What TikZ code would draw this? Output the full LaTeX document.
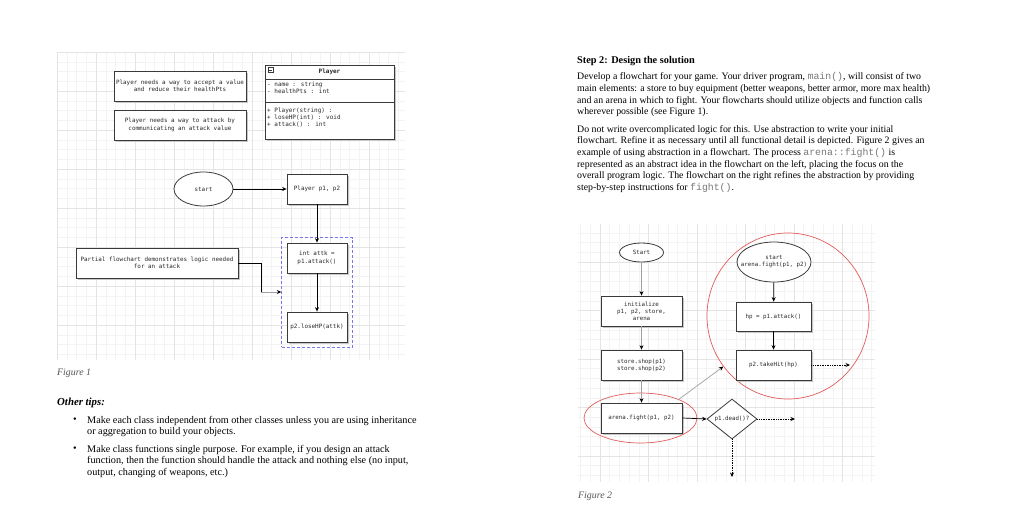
\documentclass[tikz,border=0pt]{standalone}
\usepackage{fontspec}
\setmainfont{Liberation Serif}
\setmonofont{Liberation Mono}
\newfontfamily\diafont{DejaVu Sans Mono}
\usepackage{xcolor}
\usetikzlibrary{arrows.meta, shapes.geometric, positioning, calc, fit, shadows}
\definecolor{GridMinor}{RGB}{243,243,243}
\definecolor{GridMajor}{RGB}{228,228,228}
\definecolor{BoxLine}{RGB}{58,58,58}
\definecolor{DiaText}{RGB}{40,40,40}
\definecolor{FocusRed}{RGB}{226,92,92}
\definecolor{SelectBlue}{RGB}{120,120,235}
\definecolor{CodeGray}{RGB}{120,120,120}
\definecolor{CaptionGray}{RGB}{85,85,85}
\definecolor{LinkGray}{RGB}{160,160,160}
\newcommand{\bodysize}{\fontsize{9.85}{11.6}\selectfont}
\newcommand{\tipsize}{\fontsize{10.2}{11.5}\selectfont}
\newcommand{\inlinecode}[1]{\textcolor{CodeGray}{\texttt{#1}}}

\begin{document}
\begin{tikzpicture}[x=1pt,y=-1pt,
    dia/.style={draw=BoxLine,fill=white,line width=0.8pt,text=DiaText,
                font=\diafont\fontsize{5.9}{7.3}\selectfont,align=center,inner sep=0pt},
    box/.style={dia,drop shadow={shadow xshift=1.6pt,shadow yshift=-1.6pt,fill=black!22,opacity=1}},
    flowtext/.style={font=\diafont\fontsize{5.8}{7}\selectfont},
    term/.style={dia,ellipse},
    cls/.style={text=DiaText,font=\diafont\fontsize{6}{7.2}\selectfont,align=left,inner sep=0pt,anchor=north west},
    arr/.style={-{Stealth[length=4.5pt,width=4pt]},draw=black,line width=0.7pt},
    garr/.style={-{Stealth[length=4.5pt,width=4pt,color=black]},draw=LinkGray,line width=1pt},
    darr/.style={arr,densely dotted},
    focus/.style={draw=FocusRed,line width=0.7pt,ellipse,inner sep=0pt},
    para/.style={inner sep=0pt,anchor=north west,align=left,font=\bodysize},
    tip/.style={para,font=\tipsize},
    gridfine/.style={GridMinor,line width=0.5pt},
    gridbold/.style={GridMajor,line width=0.6pt}
  ]
  \fill[white] (0,0) rectangle (1024,504);
  \useasboundingbox (0,0) rectangle (1024,504);

  % grid behind figure 1
  \begin{scope}
    \clip (57,52) rectangle (405,360);
    \foreach \i in {0,...,36} \draw[gridfine] ({57+9.75*\i},52) -- ({57+9.75*\i},360);
    \foreach \j in {0,...,32} \draw[gridfine] (57,{52+9.75*\j}) -- (405,{52+9.75*\j});
    \foreach \i in {0,...,9} \draw[gridbold] ({57+39*\i},52) -- ({57+39*\i},360);
    \foreach \j in {0,...,8} \draw[gridbold] (57,{52+39*\j}) -- (405,{52+39*\j});
  \end{scope}

  % grid behind figure 2
  \begin{scope}
    \clip (578,224) rectangle (875,482);
    \foreach \i in {0,...,34} \draw[gridfine] ({551.5+9.7*\i},224) -- ({551.5+9.7*\i},482);
    \foreach \j in {0,...,28} \draw[gridfine] (578,{213.5+9.7*\j}) -- (875,{213.5+9.7*\j});
    \foreach \i in {0,...,7} \draw[gridbold] ({551.5+48.5*\i},224) -- ({551.5+48.5*\i},482);
    \foreach \j in {0,...,6} \draw[gridbold] (578,{213.5+48.5*\j}) -- (875,{213.5+48.5*\j});
  \end{scope}

  % figure 1: notes and class
  \node[box,minimum width=132,minimum height=30] (needValue) at (180,86)
    {Player needs a way to accept a value\\and reduce their healthPts};
  \node[box,minimum width=132,minimum height=30] (needAttack) at (180,125)
    {Player needs a way to attack by\\communicating an attack value};

  \node[box,minimum width=129,minimum height=74,anchor=north west] (playerCls) at (265,65) {};
  \draw[BoxLine,line width=0.8pt] ($(playerCls.north west)+(0,14)$) -- ($(playerCls.north east)+(0,14)$);
  \draw[BoxLine,line width=0.8pt] ($(playerCls.north west)+(0,37)$) -- ($(playerCls.north east)+(0,37)$);
  \node[cls,anchor=center,font=\diafont\bfseries\fontsize{6}{7.2}\selectfont] (clsName) at (329.5,72) {Player};
  \node[draw=BoxLine,line width=0.5pt,minimum size=5,inner sep=0pt] (clsToggle) at (270.5,70) {};
  \draw[BoxLine,line width=0.5pt] ($(clsToggle.west)+(1,0)$) -- ($(clsToggle.east)+(-1,0)$);
  \node[cls] (clsAttr) at (267,81.5) {- name : string\\- healthPts : int};
  \node[cls] (clsOps) at (267,107.5) {+ Player(string) :\\+ loseHP(int) : void\\+ attack() : int};

  % figure 1: partial flowchart
  \node[term,minimum width=59,minimum height=34] (startA) at (203.5,189) {start};
  \node[box,minimum width=60,minimum height=30] (declA) at (317,189) {Player p1, p2};
  \node[box,minimum width=60,minimum height=30] (attkA) at (317,258) {int attk =\\p1.attack()};
  \node[box,minimum width=60,minimum height=30] (loseA) at (317,327) {p2.loseHP(attk)};
  \node[draw=SelectBlue,densely dashed,line width=0.6pt,fit=(attkA)(loseA),inner sep=5pt] (attackGroup) {};
  \node[box,minimum width=162,minimum height=30] (partialA) at (157,263)
    {Partial flowchart demonstrates logic needed\\for an attack};
  \coordinate (kneeA) at (261,292);

  \draw[arr] (startA) -- (declA);
  \draw[arr] (declA) -- (attkA);
  \draw[arr] (attkA) -- (loseA);
  \draw[black,line width=0.7pt] (partialA.east) -| (kneeA);
  \draw[garr] (kneeA) -- (kneeA -| attackGroup.west);

  % figure 2: main flowchart
  \node[term,flowtext,minimum width=44,minimum height=19] (startB) at (641.5,252.5) {Start};
  \node[box,flowtext,minimum width=81,minimum height=30] (initB) at (641.5,311) {initialize\\p1, p2, store,\\arena};
  \node[box,flowtext,minimum width=81,minimum height=30] (shopB) at (641.5,365) {store.shop(p1)\\store.shop(p2)};
  \node[box,flowtext,minimum width=81,minimum height=30] (fightB) at (641.5,418) {arena.fight(p1, p2)};
  \node[focus,minimum width=113,minimum height=50] (focusB) at (640.5,418) {};
  \node[dia,flowtext,diamond,aspect=1.25,minimum width=50,minimum height=40] (deadB) at (732,419) {p1.dead()?};
  \coordinate (deadYes) at (795,419);
  \coordinate (deadNo) at (732,477);

  % figure 2: refined fight
  \node[focus,minimum width=162,minimum height=166] (zoomB) at (788,316) {};
  \node[term,minimum width=74,minimum height=40] (fightStartB) at (774,262) {};
  \node[flowtext,text=DiaText,align=center,inner sep=0pt] (fightStartLbl) at (fightStartB) {start\\arena.fight(p1, p2)};
  \node[box,flowtext,minimum width=75,minimum height=29] (hpB) at (773.5,316.5) {hp = p1.attack()};
  \node[box,flowtext,minimum width=75,minimum height=30] (takeHitB) at (773.5,365) {p2.takeHit(hp)};
  \coordinate (takeHitOut) at (850,365);

  \draw[garr] (startB) -- (initB);
  \draw[garr] (initB) -- (shopB);
  \draw[garr] (shopB) -- (fightB);
  \draw[arr] (fightB.east) -- (deadB.west);
  \draw[darr] (deadB.east) -- (deadYes);
  \draw[darr] (deadB.south) -- (deadNo);
  \draw[garr,line width=0.7pt] (focusB.26) -- (zoomB.218);
  \draw[arr] (fightStartB) -- (hpB);
  \draw[arr] (hpB) -- (takeHitB);
  \draw[darr] (takeHitB.east) -- (takeHitOut);

  % captions and text
  \node[para,font=\bodysize\itshape,text=CaptionGray] (figOne) at (57,369) {Figure 1};
  \node[tip,font=\fontsize{10.8}{12}\selectfont\bfseries\itshape] (tipsHead) at (57,397.8) {Other tips:};
  \node[inner sep=0pt,font=\tipsize] (tipDotA) at (75,420) {\textbullet};
  \node[tip] (tipTextA) at (87,416.1)
    {Make each class independent from other classes unless you are using inheritance\\or aggregation to build your objects.};
  \node[inner sep=0pt,font=\tipsize] (tipDotB) at (75,449) {\textbullet};
  \node[tip] (tipTextB) at (87,445.1)
    {Make class functions single purpose. For example, if you design an attack\\function, then the function should handle the attack and nothing else (no input,\\output, changing of weapons, etc.)};

  \node[para,font=\fontsize{10.3}{12}\selectfont\bfseries] (stepHead) at (577,56) {Step 2: Design the solution};
  \node[para] (stepParaA) at (577,72.6)
    {Develop a flowchart for your game. Your driver program, \inlinecode{main()}, will consist of two\\
     main elements: a store to buy equipment (better weapons, better armor, more max health)\\
     and an arena in which to fight. Your flowcharts should utilize objects and function calls\\
     wherever possible (see Figure 1).};
  \node[para] (stepParaB) at (577,125.2)
    {Do not write overcomplicated logic for this. Use abstraction to write your initial\\
     flowchart. Refine it as necessary until all functional detail is depicted. Figure 2 gives an\\
     example of using abstraction in a flowchart. The process \inlinecode{arena::fight()} is\\
     represented as an abstract idea in the flowchart on the left, placing the focus on the\\
     overall program logic. The flowchart on the right refines the abstraction by providing\\
     step-by-step instructions for \inlinecode{fight()}.};
  \node[para,font=\bodysize\itshape,text=CaptionGray] (figTwo) at (578,491.6) {Figure 2};
\end{tikzpicture}
\end{document}
